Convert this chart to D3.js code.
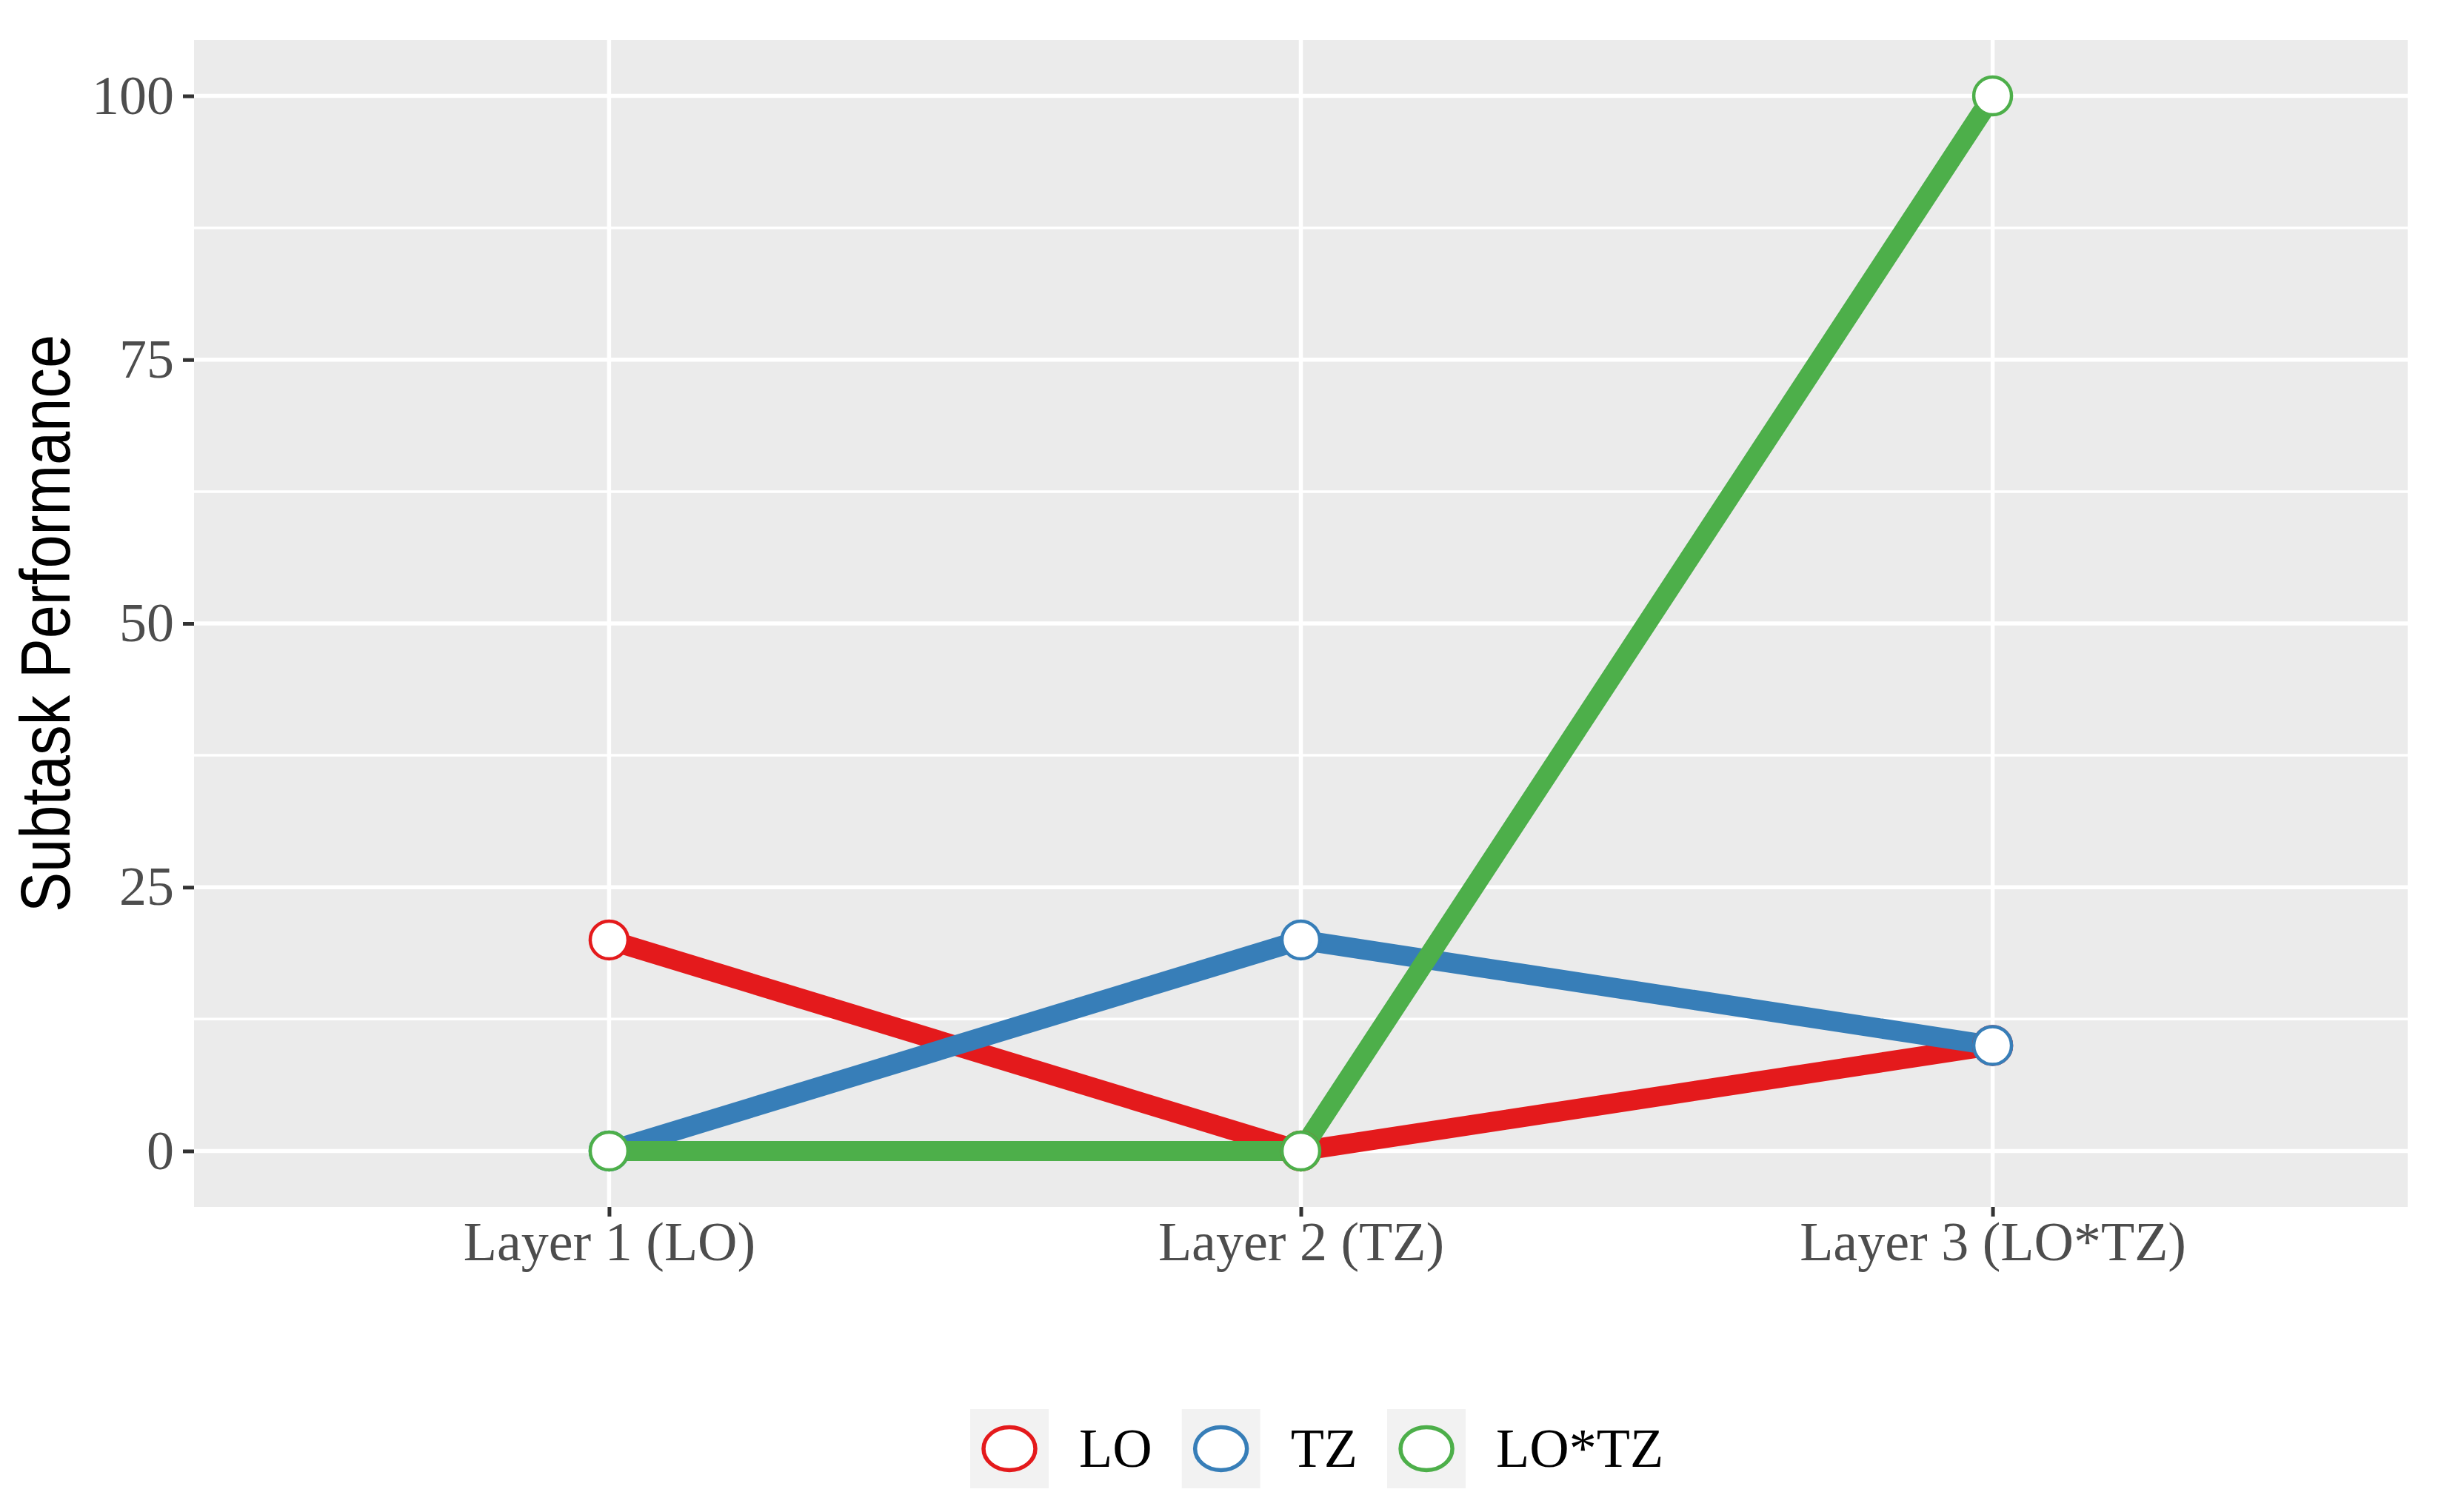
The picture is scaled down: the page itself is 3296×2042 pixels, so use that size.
<!DOCTYPE html>
<html><head><meta charset="utf-8">
<script src="https://cdn.jsdelivr.net/npm/d3@7"></script>
<style>body{margin:0;background:#fff}</style>
</head><body>
<svg id="c" width="3296" height="2042" xmlns="http://www.w3.org/2000/svg"></svg>
<script>
// ---- data ----
const categories = ["Layer 1 (LO)", "Layer 2 (TZ)", "Layer 3 (LO*TZ)"];
const seriesNames = ["LO", "TZ", "LO*TZ"];
const loValues = [20, 0, 10];
const tzValues = [0, 20, 10];
const lotzValues = [0, 0, 100];
const yTicks = [0, 25, 50, 75, 100];
const yMinorTicks = [12.5, 37.5, 62.5, 87.5];
const yTickLabels = ["0", "25", "50", "75", "100"];
const seriesColors = ["#E41A1C", "#377EB8", "#4DAF4A"];
const yTitle = "Subtask Performance";

const seriesValues = [loValues, tzValues, lotzValues];
const series = seriesNames.map((name, i) => ({
  name, color: seriesColors[i],
  points: categories.map((c, j) => ({cat: c, value: seriesValues[i][j]}))
}));

// ---- layout ----
const panel = {left: 262, right: 3251, top: 54, bottom: 1630};
const svg = d3.select("#c");
svg.append("rect").attr("width", 3296).attr("height", 2042).attr("fill", "#fff");

const x = d3.scalePoint().domain(categories).range([panel.left, panel.right]).padding(0.6);
const y = d3.scaleLinear().domain([-5.3, 105.3]).range([panel.bottom, panel.top]);

// panel background
svg.append("rect")
  .attr("x", panel.left).attr("y", panel.top)
  .attr("width", panel.right - panel.left).attr("height", panel.bottom - panel.top)
  .attr("fill", "#EBEBEB");

const grid = svg.append("g");
grid.selectAll("line.minor").data(yMinorTicks).join("line")
  .attr("x1", panel.left).attr("x2", panel.right)
  .attr("y1", d => y(d)).attr("y2", d => y(d))
  .attr("stroke", "#fff").attr("stroke-width", 3.5);
grid.selectAll("line.majy").data(yTicks).join("line")
  .attr("x1", panel.left).attr("x2", panel.right)
  .attr("y1", d => y(d)).attr("y2", d => y(d))
  .attr("stroke", "#fff").attr("stroke-width", 5.5);
grid.selectAll("line.majx").data(categories).join("line")
  .attr("y1", panel.top).attr("y2", panel.bottom)
  .attr("x1", d => x(d)).attr("x2", d => x(d))
  .attr("stroke", "#fff").attr("stroke-width", 5.5);

// axes
const xAxis = svg.append("g").attr("transform", `translate(0,${panel.bottom})`)
  .call(d3.axisBottom(x).tickSize(13).tickPadding(6).tickSizeOuter(0));
const yAxis = svg.append("g").attr("transform", `translate(${panel.left},0)`)
  .call(d3.axisLeft(y).tickValues(yTicks).tickFormat((d, i) => yTickLabels[i]).tickSize(15).tickPadding(12).tickSizeOuter(0));
[xAxis, yAxis].forEach(a => {
  a.select(".domain").remove();
  a.selectAll(".tick line").attr("stroke", "#333333").attr("stroke-width", 5);
  a.selectAll(".tick text")
    .attr("fill", "#4D4D4D")
    .style("font-family", "'Liberation Serif', 'Times New Roman', serif")
    .style("font-size", "74px");
});

// y-axis title
svg.append("text")
  .attr("transform", `translate(94,${(panel.top + panel.bottom) / 2}) rotate(-90)`)
  .attr("text-anchor", "middle")
  .attr("textLength", 780).attr("lengthAdjust", "spacingAndGlyphs")
  .style("font-family", "'Liberation Sans', Arial, sans-serif")
  .style("font-size", "94px")
  .attr("fill", "#000")
  .text(yTitle);

// lines
const line = d3.line().x(d => x(d.cat)).y(d => y(d.value));
svg.append("g").selectAll("path").data(series).join("path")
  .attr("d", d => line(d.points))
  .attr("fill", "none")
  .attr("stroke", d => d.color)
  .attr("stroke-width", 27)
  .attr("stroke-linejoin", "round");

// points
const pts = svg.append("g");
series.forEach(s => {
  pts.selectAll(null).data(s.points).join("circle")
    .attr("cx", d => x(d.cat)).attr("cy", d => y(d.value))
    .attr("r", 25.5)
    .attr("fill", "#fff")
    .attr("stroke", s.color)
    .attr("stroke-width", 4.5);
});

// legend
const legend = svg.append("g");
const keyW = 106, keyH = 107, keyTop = 1903, gapKeyLabel = 41, gapLabelKey = 40;
let cx = 1310;
series.forEach(s => {
  legend.append("rect").attr("x", cx).attr("y", keyTop).attr("width", keyW).attr("height", keyH).attr("fill", "#F2F2F2");
  legend.append("ellipse").attr("cx", cx + keyW / 2).attr("cy", keyTop + keyH / 2)
    .attr("rx", 35).attr("ry", 29)
    .attr("fill", "#fff").attr("stroke", s.color).attr("stroke-width", 5.5);
  const t = legend.append("text")
    .attr("x", cx + keyW + gapKeyLabel).attr("y", keyTop + keyH / 2 + 24)
    .style("font-family", "'Liberation Serif', 'Times New Roman', serif")
    .style("font-size", "74px")
    .attr("fill", "#000")
    .text(s.name);
  cx = cx + keyW + gapKeyLabel + t.node().getComputedTextLength() + gapLabelKey;
});
</script>
</body></html>
